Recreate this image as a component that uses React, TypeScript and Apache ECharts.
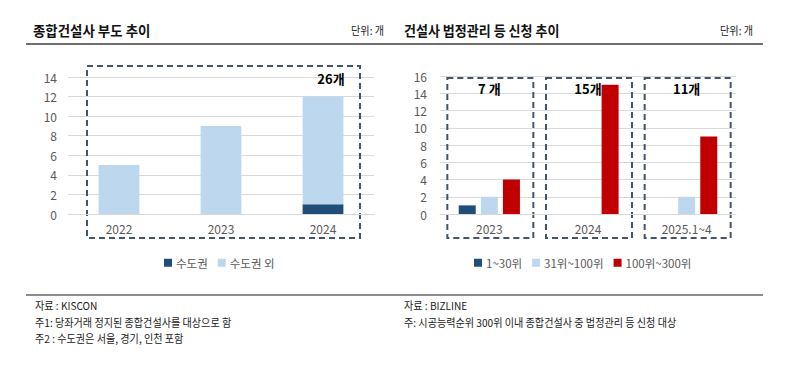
import React, { useEffect, useRef } from "react";
import * as echarts from "echarts";

// ---- Data ----
const years = ["2022", "2023", "2024"];
const metroArea = [0, 0, 1]; // 수도권
const outsideMetro = [5, 9, 11]; // 수도권 외

const periods = ["2023", "2024", "2025.1~4"];
const rank1to30 = [1, 0, 0];
const rank31to100 = [2, 0, 2];
const rank100to300 = [4, 15, 9];

const leftYMax = 14;
const rightYMax = 16;

const FONT = "'Noto Sans CJK KR', 'Noto Sans', sans-serif";
const NAVY = "#1F4E79";
const LIGHT = "#BDD7EE";
const RED = "#C00000";
const BOX = "#44546A";
const LABEL = "#595959";
const GRID = "#D9D9D9";

export default function App() {
  const ref = useRef<HTMLDivElement>(null);

  useEffect(() => {
    if (!ref.current) return;
    const chart = echarts.init(ref.current, undefined, { renderer: "svg" });

    const yAxisCommon = {
      type: "value" as const,
      min: 0,
      interval: 2,
      axisLine: { show: false },
      axisTick: { show: false },
      splitLine: { lineStyle: { color: GRID, width: 1 } },
      axisLabel: { color: LABEL, fontSize: 12, fontFamily: FONT },
    };
    const xAxisCommon = {
      type: "category" as const,
      axisLine: { lineStyle: { color: GRID, width: 1 } },
      axisTick: { show: false },
      axisLabel: { color: LABEL, fontSize: 12, fontFamily: FONT, margin: 8 },
    };
    const legendCommon = {
      top: 252,
      itemWidth: 8,
      itemHeight: 8,
      itemGap: 10,
      icon: "rect",
      textStyle: { color: LABEL, fontSize: 11.5, fontFamily: FONT, padding: [0, 0, 0, -1] },
    };

    chart.setOption({
      animation: false,
      textStyle: { fontFamily: FONT },
      grid: [
        { left: 68, top: 77, width: 306, height: 137 },
        { left: 440, top: 76, width: 296, height: 138 },
      ],
      xAxis: [
        { ...xAxisCommon, gridIndex: 0, data: years },
        { ...xAxisCommon, gridIndex: 1, data: periods },
      ],
      yAxis: [
        { ...yAxisCommon, gridIndex: 0, max: leftYMax, axisLabel: { ...yAxisCommon.axisLabel, margin: 11 } },
        { ...yAxisCommon, gridIndex: 1, max: rightYMax, axisLabel: { ...yAxisCommon.axisLabel, margin: 13 } },
      ],
      legend: [
        { ...legendCommon, data: ["수도권", "수도권 외"], left: 159 },
        { ...legendCommon, data: ["1~30위", "31위~100위", "100위~300위"], left: 469 },
      ],
      series: [
        {
          name: "수도권",
          type: "bar",
          xAxisIndex: 0,
          yAxisIndex: 0,
          stack: "total",
          barWidth: "40%",
          data: metroArea,
          itemStyle: { color: NAVY },
        },
        {
          name: "수도권 외",
          type: "bar",
          xAxisIndex: 0,
          yAxisIndex: 0,
          stack: "total",
          barWidth: "40%",
          data: outsideMetro,
          itemStyle: { color: LIGHT },
        },
        {
          name: "1~30위",
          type: "bar",
          xAxisIndex: 1,
          yAxisIndex: 1,
          barWidth: 17,
          barGap: "30%",
          data: rank1to30,
          itemStyle: { color: NAVY },
        },
        {
          name: "31위~100위",
          type: "bar",
          xAxisIndex: 1,
          yAxisIndex: 1,
          barWidth: 17,
          barGap: "30%",
          data: rank31to100,
          itemStyle: { color: LIGHT },
        },
        {
          name: "100위~300위",
          type: "bar",
          xAxisIndex: 1,
          yAxisIndex: 1,
          barWidth: 17,
          barGap: "30%",
          data: rank100to300,
          itemStyle: { color: RED },
        },
      ],
    });

    // Totals computed from data
    const leftTotal =
      metroArea.reduce((a, b) => a + b, 0) + outsideMetro.reduce((a, b) => a + b, 0);
    const rightTotals = periods.map((_, i) => rank1to30[i] + rank31to100[i] + rank100to300[i]);

    const lc = years.map((_, i) => chart.convertToPixel({ xAxisIndex: 0 }, i) as number);
    const rc = periods.map((_, i) => chart.convertToPixel({ xAxisIndex: 1 }, i) as number);
    const boxTop = chart.convertToPixel({ yAxisIndex: 1 }, rightYMax) as number;

    const dashed = { stroke: BOX, lineWidth: 2, lineDash: [6, 4], fill: "none" };
    const note = (text: string, x: number, y: number) => ({
      type: "text", x, y, scaleX: 0.92,
      style: { text, font: `11px ${FONT}`, fill: "#222", verticalAlign: "middle" },
    });

    const graphic: any[] = [
      // Titles
      {
        type: "text", x: 33, y: 30, scaleX: 0.96,
        style: { text: "종합건설사 부도 추이", font: `bold 14px ${FONT}`, fill: "#111", verticalAlign: "middle" },
      },
      {
        type: "text", x: 384, y: 30, scaleX: 0.92,
        style: { text: "단위: 개", font: `11px ${FONT}`, fill: "#222", align: "right", verticalAlign: "middle" },
      },
      {
        type: "text", x: 404, y: 30, scaleX: 0.93,
        style: { text: "건설사 법정관리 등 신청 추이", font: `bold 14px ${FONT}`, fill: "#111", verticalAlign: "middle" },
      },
      {
        type: "text", x: 753, y: 30, scaleX: 0.92,
        style: { text: "단위: 개", font: `11px ${FONT}`, fill: "#222", align: "right", verticalAlign: "middle" },
      },
      // Rules
      { type: "line", shape: { x1: 26, y1: 44, x2: 763, y2: 44 }, style: { stroke: "#404040", lineWidth: 1.5 } },
      { type: "line", shape: { x1: 26, y1: 295, x2: 763, y2: 295 }, style: { stroke: "#8C8C8C", lineWidth: 2 } },
      // Left dashed box
      {
        type: "rect",
        shape: { x: lc[0] - 32, y: 66, width: lc[2] + 37 - (lc[0] - 32), height: 172 },
        style: dashed,
      },
      {
        type: "text", x: lc[2] + 8, y: 78,
        style: { text: `${leftTotal}개`, font: `bold 13px ${FONT}`, fill: "#000", align: "center", verticalAlign: "middle" },
      },
      // Footnotes
      note("자료 : KISCON", 35, 305),
      note("주1: 당좌거래 정지된 종합건설사를 대상으로 함", 35, 322),
      note("주2 : 수도권은 서울, 경기, 인천 포함", 35, 338),
      note("자료 : BIZLINE", 404, 305),
      note("주: 시공능력순위 300위 이내 종합건설사 중 법정관리 등 신청 대상", 404, 322),
    ];

    rc.forEach((c, i) => {
      graphic.push({
        type: "rect",
        shape: { x: c - 42, y: boxTop + 2, width: 86, height: 238 - (boxTop + 2) },
        style: dashed,
      });
      const t = rightTotals[i];
      graphic.push({
        type: "text", x: c, y: 88,
        style: {
          text: `${t}${t < 10 ? " " : ""}개`,
          font: `bold 13px ${FONT}`, fill: "#000", align: "center", verticalAlign: "middle",
        },
      });
    });

    chart.setOption({ graphic });

    return () => chart.dispose();
  }, []);

  return (
    <div
      ref={ref}
      style={{ position: "absolute", left: 0, top: 0, width: 786, height: 365, background: "#fff" }}
    />
  );
}
